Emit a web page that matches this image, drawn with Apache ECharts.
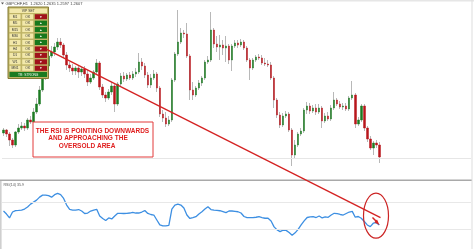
<!DOCTYPE html>
<html><head><meta charset="utf-8">
<script src="https://cdn.jsdelivr.net/npm/echarts@6/dist/echarts.min.js"></script>
<style>html,body{margin:0;padding:0;background:#fff;overflow:hidden}#c{width:474px;height:249px}</style>
</head><body><div id="c"></div>
<script>
// ---- data (price in chart points, RSI 0-100) ----
const openV = [27,30,26,20,15,28,32,34,32,40, 38,48,56,70,82,94,104,108,113,118,
  115,105,95,92,89,92,88,91,86,78, 82,88,97,73,65,62,68,74,56,76,
  84,81,85,82,86,88,98,94,85,75, 82,86,72,46,42,36,40,80,106,118,
  127,126,104,70,65,72,77,82,98,100, 130,116,113,115,112,114,100,114,117,115,
  118,112,100,92,100,103,102,97,96,95, 82,60,45,35,44,46,30,5,15,26,
  29,50,54,49,52,48,52,39,44,41, 52,60,56,53,54,51,62,65,36,40,
  54,32,21,12,17,15];
const closeV = [30,26,20,15,28,32,34,32,40,38, 48,56,70,82,94,104,108,113,118,115,
  105,95,92,89,92,88,91,86,78,82, 88,97,73,65,62,68,74,56,76,84,
  81,85,82,86,88,98,94,85,75,82, 86,72,46,42,36,40,80,106,118,127,
  126,104,70,65,72,77,82,98,100,130, 116,113,115,112,114,100,114,117,115,118,
  112,100,92,100,103,102,97,96,95,82, 60,45,35,44,46,30,5,15,26,29,
  50,54,49,52,48,52,39,44,41,52, 60,56,53,54,51,62,65,36,40,54,
  32,21,12,17,15,3];
const highV = [32,31,28,22,29,36,38,37,42,44, 52,62,74,88,100,110,114,117,122,122,
  117,108,98,96,94,95,93,94,90,86, 90,101,99,76,68,71,78,76,78,87,
  88,87,88,89,92,107,102,97,88,86, 90,88,74,50,48,44,82,108,150,132,
  130,137,106,78,74,80,84,100,104,148, 132,124,125,120,124,116,116,120,120,121,
  120,114,102,102,105,106,105,102,100,98, 84,62,48,47,49,48,32,20,28,32,
  52,58,57,55,56,56,54,47,48,55, 68,62,59,57,57,64,79,67,43,56,
  56,34,24,19,20,18];
const lowV = [24,23,14,12,13,26,30,29,30,36, 36,46,54,68,80,92,102,104,110,112,
  102,90,88,85,85,82,84,82,74,76, 80,86,70,62,58,60,65,48,54,74,
  78,79,80,80,83,86,90,82,72,72, 80,68,43,38,33,34,38,78,104,116,
  122,102,60,60,63,70,74,80,96,98, 112,108,100,105,98,96,89,112,112,113,
  110,98,80,90,98,100,95,94,93,80, 52,42,32,33,42,28,-6,2,13,24,
  27,46,46,47,45,46,32,37,39,39, 50,54,51,50,49,49,60,32,34,38,
  29,18,10,5,12,-3];
const rsiV = [56.7,52.2,46.3,55.2,57.4,57.7,58.1,59.6,62.6,67.0,
  70,73,77.4,80.4,80.4,79.6,77.4,81.1,82.9,81.1,
  75.5,65.6,59.2,58.1,58.1,58.9,56.7,53.0,53.7,56.7,
  58.1,59.2,49.3,45.6,42.6,46.3,44.8,49.3,53.3,53.3,
  53.0,53.3,53.7,54.7,53.7,53.7,55.2,57.4,53.0,51.5,
  50.7,43.3,35.9,34.5,34.5,35.2,59.6,65.6,67.0,65.6,
  61.1,50.7,45.6,46.7,48.2,52.2,55.6,59.6,63.0,58.9,
  58.1,57.7,57.1,55.9,54.4,56.7,56.7,56.2,55.6,53.7,
  48.5,46.7,46.7,46.7,47.4,48.2,47.0,45.9,45.9,41.9,
  33.0,28.5,26.0,28.1,27.8,24.5,20.4,24.1,29.3,35.9,
  41.9,47.0,47.8,48.2,47.0,49.3,46.3,47.8,47.3,50.7,
  53.3,52.7,51.5,50.7,53.0,55.2,56.2,47.5,48.5,45.9,
  41.1,35.9,33.4,38.5,39.3,35.9];
const slotCount = 156; // bars + empty right shift
const categories = Array.from({length: slotCount}, (_, i) => 'H' + i);
const rsiLevels = [70, 30];
const priceLevels = [2];
const tfLabels = ['M1','M5','M15','M30','H1','H4','D1','W1','MN1'];
const tfState = ['down','up','up','up','up','down','down','down','down'];
const noteLines = ['THE RSI IS POINTING DOWNWARDS', 'AND APPROACHING THE', 'OVERSOLD AREA'];
const headerText = 'GBPCHF,H1  1.2620 1.2635 1.2597 1.2607';
const rsiLabel = 'RSI(14) 35.9';

// ---- build ----
const wickData = openV.map((o, i) => [o, closeV[i], lowV[i], highV[i]]);
const bodyData = openV.map((o, i) => [o, closeV[i], Math.min(o, closeV[i]), Math.max(o, closeV[i])]);

const UP = '#1c7a22', DN = '#b8161c', WICK = '#b8b8b8';
function txt(t, x, y, size, fill, weight, align) {
  return {type: 'text', z: 40, style: {text: t, x: x, y: y, fill: fill,
    font: (weight || 'normal') + ' ' + size + 'px "Liberation Sans", Arial, sans-serif',
    align: align || 'center', verticalAlign: 'middle', textAlign: align || 'center', textVerticalAlign: 'middle'}};
}
const g = [];
g.push({type: 'rect', z: 10, shape: {x: 0, y: 0, width: 474, height: 1.5}, style: {fill: '#e6e6e6'}});
g.push({type: 'polygon', z: 20, shape: {points: [[1, 2.5], [4, 2.5], [2.5, 4.5]]}, style: {fill: '#555'}});
g.push(txt(headerText, 5.5, 3.6, 4, '#444', 'normal', 'left'));
g.push({type: 'rect', z: 10, shape: {x: 0, y: 179.5, width: 472, height: 1.6}, style: {fill: '#a9a9a9'}});
g.push({type: 'rect', z: 10, shape: {x: 0, y: 181, width: 1.6, height: 68}, style: {fill: '#cfcfcf'}});
g.push({type: 'rect', z: 10, shape: {x: 471.5, y: 0, width: 1, height: 249}, style: {fill: '#dedede'}});
g.push(txt(rsiLabel, 3.5, 184.5, 3.6, '#555', 'normal', 'left'));
// table panel
g.push({type: 'rect', z: 15, shape: {x: 8, y: 7, width: 40.5, height: 71.5}, style: {fill: '#bfb466', stroke: '#857a35', lineWidth: 1}});
g.push({type: 'rect', z: 16, shape: {x: 9.5, y: 8.4, width: 37.5, height: 4.6}, style: {fill: '#f2e8aa'}});
g.push(txt('VIP SET', 28.25, 10.8, 3.4, '#333'));
tfLabels.forEach((lab, r) => {
  const y = 14.2 + r * 6.45;
  const up = tfState[r] === 'up';
  g.push({type: 'rect', z: 16, shape: {x: 9.5, y: y, width: 11, height: 5}, style: {fill: '#f2e8aa'}});
  g.push({type: 'rect', z: 16, shape: {x: 22.2, y: y, width: 11, height: 5}, style: {fill: '#f2e8aa'}});
  g.push({type: 'rect', z: 16, shape: {x: 34.8, y: y, width: 12.2, height: 5}, style: {fill: up ? '#17781c' : '#a0121a'}});
  g.push(txt(lab, 15, y + 2.6, 3.3, '#333'));
  g.push(txt('OK', 27.7, y + 2.6, 3.3, '#333'));
  g.push(txt(up ? '▲' : '▼', 40.9, y + 2.6, 3.2, '#fff'));
});
g.push({type: 'rect', z: 16, shape: {x: 9.5, y: 72, width: 37.5, height: 5}, style: {fill: '#1b7b21'}});
g.push(txt('TR: STRONG', 28.25, 74.6, 3.3, '#fff'));
// annotations
g.push({type: 'line', z: 25, shape: {x1: 46.7, y1: 49.3, x2: 380.5, y2: 217.7}, style: {stroke: '#d42222', lineWidth: 1.3}});
g.push({type: 'line', z: 25, shape: {x1: 372.5, y1: 217.5, x2: 377, y2: 222}, style: {stroke: '#d42222', lineWidth: 1.5}});
g.push({type: 'polygon', z: 25, shape: {points: [[379.5, 225], [374.3, 222.3], [377, 219.6]]}, style: {fill: '#d42222'}});
g.push({type: 'ellipse', z: 25, shape: {cx: 376, cy: 215.7, rx: 12.5, ry: 22.5}, style: {fill: 'none', stroke: '#cc2424', lineWidth: 1.2}});
g.push({type: 'rect', z: 22, shape: {x: 33, y: 122, width: 120, height: 35}, style: {fill: '#fff', stroke: '#e23a3a', lineWidth: 1}});
g.push(txt(noteLines[0], 92.5, 131, 6.5, '#e02020', 'bold'));
g.push(txt(noteLines[1], 88, 138.4, 6.5, '#e02020', 'bold'));
g.push(txt(noteLines[2], 87, 145.8, 6.5, '#e02020', 'bold'));

const chart = echarts.init(document.getElementById('c'), null, {renderer: 'canvas'});
chart.setOption({
  animation: false,
  backgroundColor: '#ffffff',
  grid: [
    {left: 2, right: 3, top: 6, height: 172},
    {left: 2, right: 3, top: 182, height: 67}
  ],
  xAxis: [
    {type: 'category', gridIndex: 0, data: categories, show: false, boundaryGap: true},
    {type: 'category', gridIndex: 1, data: categories, show: false, boundaryGap: true}
  ],
  yAxis: [
    {type: 'value', gridIndex: 0, min: -18, max: 154, show: false},
    {type: 'value', gridIndex: 1, min: 0, max: 100, show: false}
  ],
  series: [
    {type: 'candlestick', xAxisIndex: 0, yAxisIndex: 0, data: wickData, barWidth: 1, silent: true,
     itemStyle: {color: WICK, color0: WICK, borderColor: WICK, borderColor0: WICK, borderWidth: 1},
     markLine: {silent: true, symbol: 'none', label: {show: false},
       lineStyle: {color: '#e6e6e6', width: 1, type: 'solid'},
       data: priceLevels.map(v => ({yAxis: v}))}},
    {type: 'candlestick', xAxisIndex: 0, yAxisIndex: 0, data: bodyData, barWidth: 2, silent: true,
     itemStyle: {color: UP, color0: DN, borderColor: UP, borderColor0: DN, borderWidth: 0.5}},
    {type: 'line', xAxisIndex: 1, yAxisIndex: 1, data: rsiV, showSymbol: false, silent: true,
     lineStyle: {color: '#3d8fe2', width: 1.3},
     markLine: {silent: true, symbol: 'none', label: {show: false},
       lineStyle: {color: '#e8e8e8', width: 1, type: 'solid'},
       data: rsiLevels.map(v => ({yAxis: v}))}}
  ],
  graphic: {elements: g}
});
</script></body></html>
